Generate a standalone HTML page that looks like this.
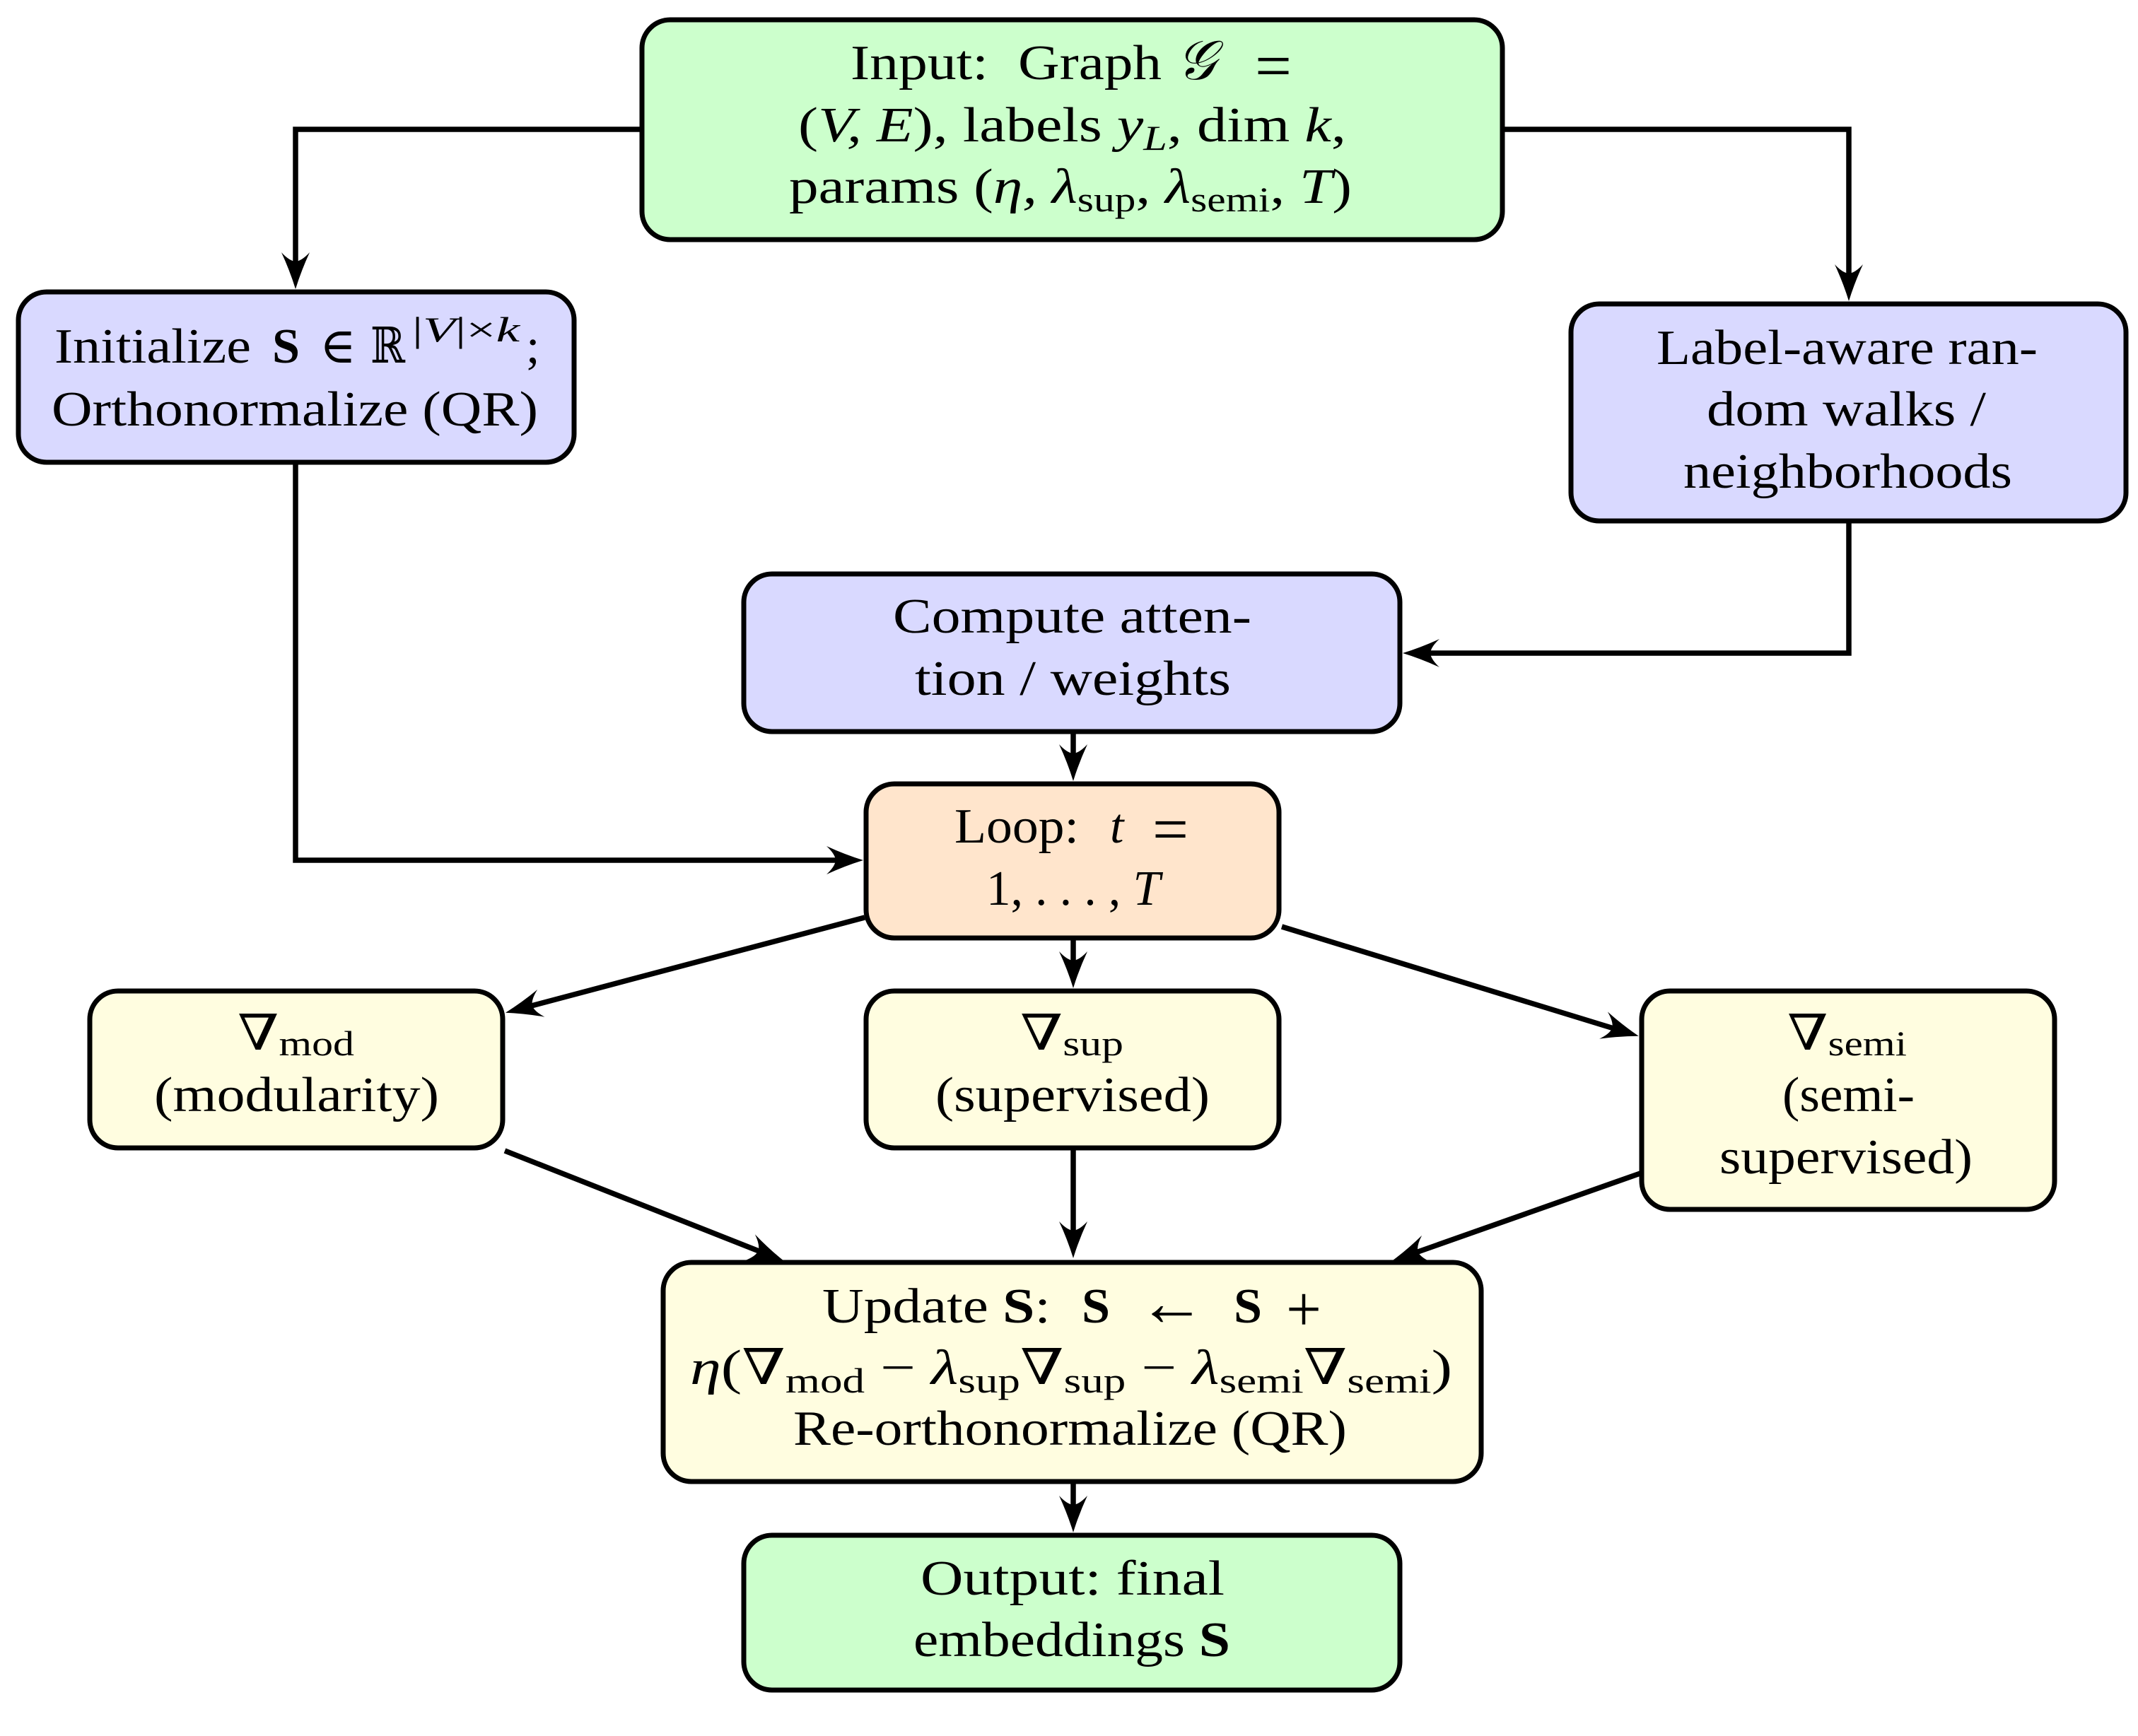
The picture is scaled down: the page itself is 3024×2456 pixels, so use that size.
<!DOCTYPE html>
<html><head><meta charset="utf-8"><style>
html,body{margin:0;padding:0;background:#fff}
svg{display:block}
text{font-family:"Liberation Serif","DejaVu Serif",serif;font-size:70px;fill:#000}
.m{font-style:italic}
.b{font-weight:bold}
.s{font-size:50px}
.e{font-size:92px}
.box{stroke:#000;stroke-width:7}
.a{fill:none;stroke:#000;stroke-width:7.5;marker-end:url(#h)}
</style></head><body>
<svg xmlns="http://www.w3.org/2000/svg" width="3024" height="2456" viewBox="0 0 3024 2456">
<defs><marker id="h" markerUnits="userSpaceOnUse" markerWidth="60" markerHeight="50" refX="22" refY="25" orient="auto"><path d="M52,25Q26,33 0,45Q12,34 13,25Q12,16 0,5Q26,17 52,25Z" fill="#000"/></marker></defs>
<rect width="3024" height="2456" fill="#fff"/>
<path class="a" d="M907,183H418V379"/>
<path class="a" d="M2126,183H2615V396"/>
<path class="a" d="M418,654V1217H1191"/>
<path class="a" d="M2615,737V924H2014"/>
<path class="a" d="M1518,1036V1075"/>
<path class="a" d="M1223,1298L744,1425"/>
<path class="a" d="M1518,1327V1368"/>
<path class="a" d="M1813,1311L2289,1457"/>
<path class="a" d="M714,1628L1081,1773"/>
<path class="a" d="M1518,1624V1750"/>
<path class="a" d="M2320,1660L1997,1774"/>
<path class="a" d="M1518,2097V2138"/>
<g class="box">
<rect x="908" y="28" width="1217" height="311" rx="40" fill="#ccffcc"/>
<rect x="26" y="413" width="786" height="241" rx="40" fill="#d9d9ff"/>
<rect x="2222" y="430" width="785" height="307" rx="40" fill="#d9d9ff"/>
<rect x="1052" y="812" width="928" height="223" rx="40" fill="#d9d9ff"/>
<rect x="1225" y="1109" width="584" height="218" rx="40" fill="#ffe5cc"/>
<rect x="127" y="1402" width="584" height="222" rx="40" fill="#fffde0"/>
<rect x="1225" y="1402" width="584" height="222" rx="40" fill="#fffde0"/>
<rect x="2322" y="1402" width="584" height="309" rx="40" fill="#fffde0"/>
<rect x="938" y="1786" width="1157" height="310" rx="40" fill="#fffde0"/>
<rect x="1052" y="2172" width="928" height="219" rx="40" fill="#ccffcc"/>
</g>
<text x="1203" y="112" textLength="195" lengthAdjust="spacingAndGlyphs">Input:</text>
<text x="1440" y="112" textLength="203" lengthAdjust="spacingAndGlyphs">Graph</text>
<text x="1664" y="112" class="m" style="font-size:78px">𝒢</text>
<text x="1775" y="124" class="e" textLength="52" lengthAdjust="spacingAndGlyphs">=</text>
<text x="1129" y="200" textLength="775" lengthAdjust="spacingAndGlyphs">(<tspan class="m">V, E</tspan>), labels <tspan class="m">y</tspan><tspan class="s m" dy="12">L</tspan><tspan dy="-12">, dim </tspan><tspan class="m">k</tspan>,</text>
<text x="1116" y="287" textLength="796" lengthAdjust="spacingAndGlyphs">params (<tspan class="m">η, λ</tspan><tspan class="s" dy="12">sup</tspan><tspan dy="-12">, </tspan><tspan class="m">λ</tspan><tspan class="s" dy="12">semi</tspan><tspan dy="-12">, </tspan><tspan class="m">T</tspan>)</text>
<text x="77" y="513" textLength="278" lengthAdjust="spacingAndGlyphs">Initialize</text>
<text x="385" y="513" class="b" textLength="39" lengthAdjust="spacingAndGlyphs">S</text>
<text x="452" y="513">∈</text>
<text x="524" y="513" textLength="49" lengthAdjust="spacingAndGlyphs">ℝ</text>
<text x="583" y="483" class="s" textLength="152" lengthAdjust="spacingAndGlyphs">|<tspan class="m">V</tspan>|×<tspan class="m">k</tspan></text>
<text x="744" y="513">;</text>
<text x="73" y="602" textLength="688" lengthAdjust="spacingAndGlyphs">Orthonormalize (QR)</text>
<text x="2343" y="515" textLength="539" lengthAdjust="spacingAndGlyphs">Label-aware ran-</text>
<text x="2414" y="602" textLength="395" lengthAdjust="spacingAndGlyphs">dom walks /</text>
<text x="2381" y="690" textLength="465" lengthAdjust="spacingAndGlyphs">neighborhoods</text>
<text x="1263" y="895" textLength="507" lengthAdjust="spacingAndGlyphs">Compute atten-</text>
<text x="1294" y="983" textLength="447" lengthAdjust="spacingAndGlyphs">tion / weights</text>
<text x="1350" y="1192" textLength="176" lengthAdjust="spacingAndGlyphs">Loop:</text>
<text x="1570" y="1192" class="m">t</text>
<text x="1630" y="1204" class="e" textLength="51" lengthAdjust="spacingAndGlyphs">=</text>
<text x="1395" y="1280" textLength="246" lengthAdjust="spacingAndGlyphs">1, . . . , <tspan class="m">T</tspan></text>
<text x="336" y="1485" textLength="165" lengthAdjust="spacingAndGlyphs">∇<tspan class="s" dy="8">mod</tspan></text>
<text x="218" y="1572" textLength="403" lengthAdjust="spacingAndGlyphs">(modularity)</text>
<text x="1443" y="1485" textLength="146" lengthAdjust="spacingAndGlyphs">∇<tspan class="s" dy="8">sup</tspan></text>
<text x="1323" y="1572" textLength="388" lengthAdjust="spacingAndGlyphs">(supervised)</text>
<text x="2528" y="1485" textLength="169" lengthAdjust="spacingAndGlyphs">∇<tspan class="s" dy="8">semi</tspan></text>
<text x="2521" y="1572" textLength="187" lengthAdjust="spacingAndGlyphs">(semi-</text>
<text x="2432" y="1660" textLength="358" lengthAdjust="spacingAndGlyphs">supervised)</text>
<text x="1163" y="1871" textLength="323" lengthAdjust="spacingAndGlyphs">Update <tspan class="b">S</tspan>:</text>
<text x="1530" y="1871" class="b" textLength="40" lengthAdjust="spacingAndGlyphs">S</text>
<text x="1610" y="1875" style="font-size:95px">←</text>
<text x="1745" y="1871" class="b" textLength="40" lengthAdjust="spacingAndGlyphs">S</text>
<text x="1819" y="1883" class="e" textLength="50" lengthAdjust="spacingAndGlyphs">+</text>
<text x="976" y="1958" textLength="1078" lengthAdjust="spacingAndGlyphs"><tspan class="m">η</tspan>(∇<tspan class="s" dy="12">mod</tspan><tspan dy="-12"> − </tspan><tspan class="m">λ</tspan><tspan class="s" dy="12">sup</tspan><tspan dy="-12">∇</tspan><tspan class="s" dy="12">sup</tspan><tspan dy="-12"> − </tspan><tspan class="m">λ</tspan><tspan class="s" dy="12">semi</tspan><tspan dy="-12">∇</tspan><tspan class="s" dy="12">semi</tspan><tspan dy="-12">)</tspan></text>
<text x="1122" y="2044" textLength="783" lengthAdjust="spacingAndGlyphs">Re-orthonormalize (QR)</text>
<text x="1302" y="2256" textLength="430" lengthAdjust="spacingAndGlyphs">Output: final</text>
<text x="1292" y="2343" textLength="448" lengthAdjust="spacingAndGlyphs">embeddings <tspan class="b">S</tspan></text>
</svg>
</body></html>
